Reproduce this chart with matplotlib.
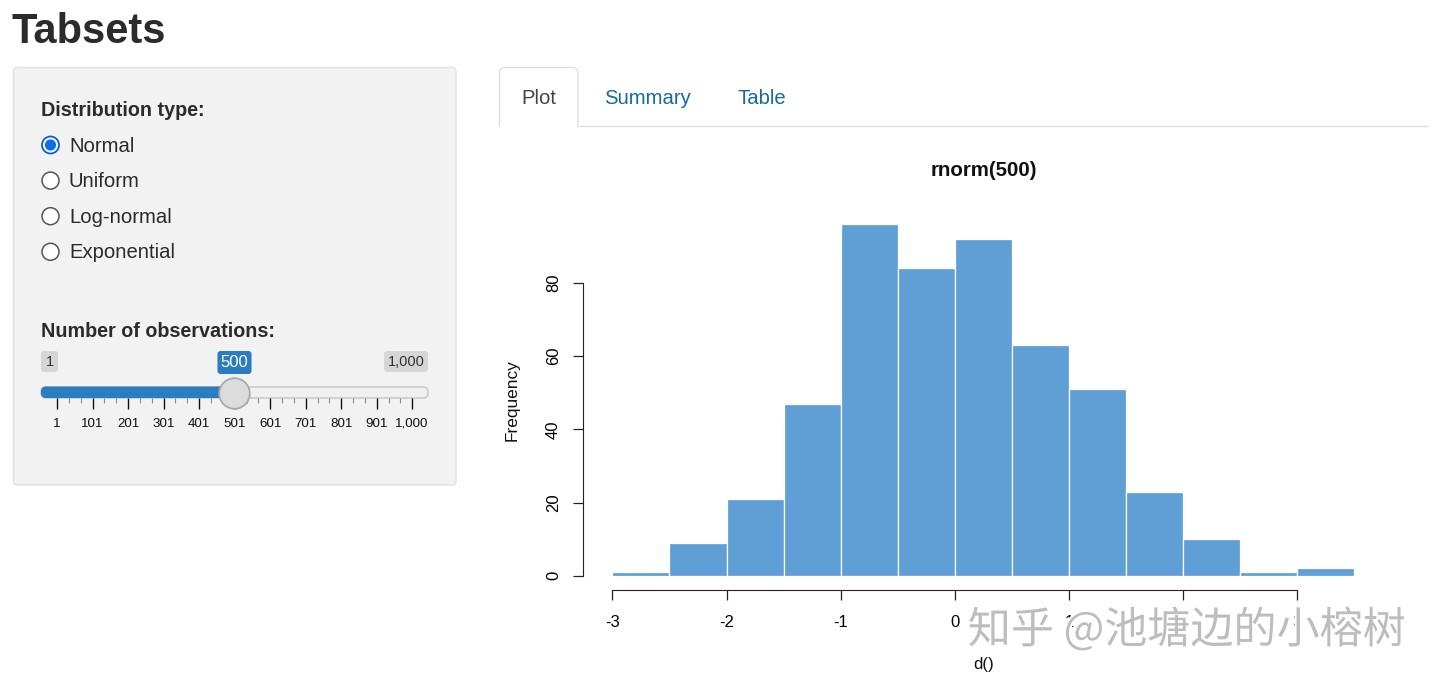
import matplotlib
matplotlib.use("Agg")
import matplotlib.pyplot as plt
import matplotlib.patheffects as pe
from matplotlib.patches import FancyBboxPatch, Circle

plt.rcParams['font.family'] = ['Liberation Sans', 'DejaVu Sans']
plt.rcParams['axes.unicode_minus'] = False

W, H = 1440, 685

# histogram
bin_edges = [-3, -2.5, -2, -1.5, -1, -0.5, 0, 0.5, 1, 1.5, 2, 2.5, 3, 3.5]
counts = [1, 9, 21, 47, 96, 84, 92, 63, 51, 23, 10, 1, 2]
x_ticks = [-3, -2, -1, 0, 1, 2, 3]
y_ticks = [0, 20, 40, 60, 80]

# sidebar
dist_types = ['Normal', 'Uniform', 'Log-normal', 'Exponential']
slider_min, slider_max, slider_value = 1, 1000, 500
slider_ticks = [1, 101, 201, 301, 401, 501, 601, 701, 801, 901, 1000]
slider_labels = ['1', '101', '201', '301', '401', '501', '601', '701', '801', '901', '1,000']
tab_names = ['Plot', 'Summary', 'Table']

DARK = '#2b2b2b'
BLUE = '#2a7dc0'
BAR = '#5f9fd6'


def px_axes(fig, left, top, right, bottom, **kw):
    return fig.add_axes([left / W, 1 - bottom / H, (right - left) / W, (bottom - top) / H], **kw)


def rounded(ax, x0, y0, x1, y1, r, **kw):
    p = FancyBboxPatch((x0 + r, y0 + r), x1 - x0 - 2 * r, y1 - y0 - 2 * r,
                       boxstyle=f"round,pad={r},rounding_size={r}", **kw)
    ax.add_patch(p)
    return p


fig = plt.figure(figsize=(W / 100, H / 100), dpi=100, facecolor='white')

# page layer, in pixels
ui = fig.add_axes([0, 0, 1, 1])
ui.set_xlim(0, W)
ui.set_ylim(H, 0)
ui.axis('off')

ui.text(12, 32, 'Tabsets', fontsize=30, fontweight='bold', color=DARK, va='center', ha='left')

rounded(ui, 13.5, 67.5, 456, 485, 4, facecolor='#f2f2f2', edgecolor='#e0e0e0', lw=1.0)
ui.text(41, 110, 'Distribution type:', fontsize=14.2, fontweight='bold', color=DARK, va='center')

for i, name in enumerate(dist_types):
    cy = 145 + i * 35.6
    if i == 0:
        ui.add_patch(Circle((50.5, cy), 8.5, facecolor='white', edgecolor='#0a5fd0', lw=1.3))
        ui.add_patch(Circle((50.5, cy), 5.6, facecolor='#0b6cf0', edgecolor='none'))
    else:
        ui.add_patch(Circle((50.5, cy), 8.5, facecolor='white', edgecolor='#555555', lw=1.1))
    ui.text(69, cy + 1, name, fontsize=14.6, color=DARK, va='center')

ui.text(41, 331, 'Number of observations:', fontsize=14.2, fontweight='bold', color=DARK, va='center')

# slider value pills
rounded(ui, 41, 351, 58, 372, 3, facecolor='#d6d6d6', edgecolor='none')
ui.text(49.5, 361.5, '1', fontsize=10.5, color='#333333', ha='center', va='center')
rounded(ui, 384, 351, 428, 372, 3, facecolor='#d6d6d6', edgecolor='none')
ui.text(406, 361.5, '1,000', fontsize=10.5, color='#333333', ha='center', va='center')
rounded(ui, 217.5, 351, 251.5, 374, 3, facecolor=BLUE, edgecolor='none')
ui.text(234.5, 362.5, '500', fontsize=12, color='white', ha='center', va='center')

# slider track
rounded(ui, 41, 387, 428, 398, 5, facecolor='#f0f0f0', edgecolor='#c4c4c4', lw=1.0)
rounded(ui, 41, 386.5, 236, 398, 5, facecolor=BLUE, edgecolor='none')

# slider scale
sl = px_axes(fig, 57, 387, 412, 398)
sl.patch.set_alpha(0)
sl.set_xlim(slider_min, slider_max)
sl.set_ylim(0, 1)
for s in sl.spines.values():
    s.set_visible(False)
sl.set_yticks([])
sl.set_xticks(slider_ticks)
sl.set_xticklabels(slider_labels, fontsize=9.6, color='#111111')
minor = []
for a, b in zip(slider_ticks[:-1], slider_ticks[1:]):
    minor += [a + (b - a) / 3, a + 2 * (b - a) / 3]
sl.set_xticks(minor, minor=True)
sl.tick_params(axis='x', which='major', length=8, width=1.0, color='#111111', pad=12.8)
sl.tick_params(axis='x', which='minor', length=3.8, width=0.8, color='#8a8a8a')
for t in sl.get_xticklabels():
    t.set_va('baseline')
sl.plot([slider_value], [0.5], 'o', ms=22, mfc='#dcdcdc', mec='#a9a9a9', mew=1.3, clip_on=False, zorder=5)

# tabs
ui.plot([578, 1427], [126, 126], color='#dddddd', lw=0.9)
ui.plot([499.5, 499.5, 503, 574.5, 578, 578], [126, 71, 67.5, 67.5, 71, 126], color='#dddddd', lw=0.9)
tab_x = [538.5, 647, 761.5]
for x, name, col in zip(tab_x, tab_names, ['#444444', '#17699f', '#17699f']):
    ui.text(x, 98, name, fontsize=14.6, color=col, ha='center', va='center')

# histogram, R style detached axes
ax = px_axes(fig, 612.4, 224.4, 1354.4, 575.7)
ax.patch.set_alpha(0)
ax.bar(bin_edges[:-1], counts, width=0.5, align='edge', color=BAR, edgecolor='white', linewidth=0.9)
ax.set_xlim(-3, 3.5)
ax.set_ylim(0, 96)
ax.spines[['top', 'right']].set_visible(False)
ax.spines['bottom'].set_position(('outward', 10.2))
ax.spines['left'].set_position(('outward', 21))
ax.spines['bottom'].set_bounds(-3, 3)
ax.spines['left'].set_bounds(0, 80)
ax.spines['bottom'].set_color('#222222')
ax.spines['left'].set_color('#222222')
ax.set_xticks(x_ticks)
ax.set_yticks(y_ticks)
ax.tick_params(axis='x', length=7, width=0.9, labelsize=12, pad=11, color='#222222')
ax.tick_params(axis='y', length=7, width=0.9, labelsize=12, pad=9, color='#222222')
for t in ax.get_yticklabels():
    t.set_rotation(90)
    t.set_va('center')

ui.text(983.5, 170, 'rnorm(500)', fontsize=14.8, fontweight='bold', color='#111111', ha='center', va='center')
ui.text(512, 400.5, 'Frequency', fontsize=12.4, color='#111111', rotation=90, ha='center', va='center')
ui.text(983.5, 664, 'd()', fontsize=12.2, color='#111111', ha='center', va='center')

# watermark on top of everything
fig.text(1186.5 / W, 1 - 631 / H, '知乎 @池塘边的小榕树', fontsize=31, color='#bdbdbd',
         family=['Noto Sans CJK SC', 'DejaVu Sans'], ha='center', va='center', zorder=20,
         path_effects=[pe.withStroke(linewidth=3, foreground='white')])

fig.savefig('out.png', dpi=100)
